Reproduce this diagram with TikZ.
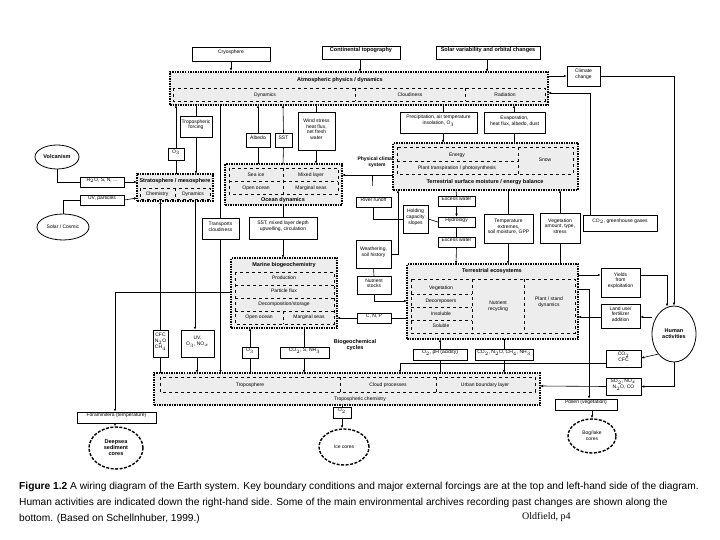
\documentclass[tikz,border=0pt]{standalone}
\usepackage{fontspec}
\setmainfont{Liberation Sans}
\newfontfamily\serifx{Liberation Serif}
\usetikzlibrary{fit,arrows.meta,shapes.geometric}
\begin{document}
\begin{tikzpicture}[x=1pt,y=-1pt,
  every node/.style={font=\fontsize{5}{5.8}\selectfont,align=center,inner sep=0pt},
  box/.style={draw,line width=0.5pt,fill=white},
  big/.style={draw,line width=2pt,dash pattern=on 1.5pt off 1pt,fill=gray!14},
  inner/.style={draw,dashed,line width=0.4pt},
  oval/.style={draw,ellipse,line width=0.8pt},
  doval/.style={draw,ellipse,line width=1.4pt,dash pattern=on 3pt off 1.5pt},
  ttl/.style={font=\fontsize{5.5}{6}\selectfont\bfseries},
  c/.style={line width=0.6pt},
  a/.style={c,-{Latex[length=3pt,width=2.5pt]}}]
\fill[white] (0,0) rectangle (720,540);
\useasboundingbox (0,0) rectangle (720,540);
% ---- top forcings
\node[box,fit={(192,47)(270,61)}] (cryo) {Cryosphere};
\node[box,fit={(322,46)(400,59)},ttl] (cont) {Continental topography};
\node[box,fit={(436,46)(540,59)},ttl] (solv) {Solar variability and orbital changes};
% ---- atmosphere
\node[big,fit={(170,72)(548,105)}] (atm) {};
\node[ttl] (atmt) at (340,80) {Atmospheric physics / dynamics};
\draw[inner] (173,88) rectangle (545,101);
\draw[inner] (355,88) -- (355,101) (465,88) -- (465,101);
\node (dyn) at (265,95) {Dynamics};
\node (cld) at (410,95) {Cloudiness};
\node (rad) at (505,95) {Radiation};
\node[box,fit={(567,66)(600,86)}] (cc) {Climate\\change};
% ---- forcings under atm
\node[box,fit={(180,116)(212,137)}] (tf) {Tropospheric\\forcing};
\node[box,fit={(168,148)(184,160)}] (o3a) {O$_3$};
\node[box,fit={(246,133)(270,147)}] (alb) {Albedo};
\node[box,fit={(275,133)(292,147)}] (sst) {SST};
\node[box,fit={(298,112)(335,150)}] (ws) {Wind stress\\heat flux,\\net fresh\\water};
\node[box,fit={(400,112)(477,133)}] (prec) {Precipitation, air temperature\\insolation, O$_3$};
\node[box,fit={(484,112)(545,133)}] (evap) {Evaporation,\\heat flux, albedo, dust};
% ---- left
\node[oval,minimum width=44,minimum height=24,ttl] (volc) at (57,157) {Volcanism};
\node[box,fit={(80,177)(124,187)}] (h2o) {H$_2$O, S, N, ...};
\node[box,fit={(80,195)(124,205)}] (uv) {UV, particles};
\node[oval,minimum width=52,minimum height=26] (solc) at (63,227) {Solar / Cosmic};
\node[big,fit={(137,174)(213,201)}] (strat) {};
\node[ttl] at (175,181) {Stratosphere / mesosphere};
\draw[inner] (140,188) rectangle (210,199);
\draw[inner] (175,188) -- (175,199);
\node at (157,194) {Chemistry};
\node at (193,194) {Dynamics};
% ---- ocean
\node[big,fit={(225,164)(342,205)}] (ocean) {};
\draw[inner] (229,168) rectangle (338,194) (229,181) -- (338,181) (283,168) -- (283,194);
\node at (256,175) {Sea ice};
\node at (311,175) {Mixed layer};
\node at (256,188) {Open ocean};
\node at (311,188) {Marginal seas};
\node[ttl] at (283,200) {Ocean dynamics};
\node[ttl,font=\fontsize{5}{6}\selectfont\bfseries] (pcs) at (377,162) {Physical climate\\system};
% ---- terrestrial surface
\node[big,fit={(393,143)(578,190)}] (tsur) {};
\draw[inner] (397,147) rectangle (573,174) (397,161) -- (518,161) (518,147) -- (518,174);
\node at (457,155) {Energy};
\node at (457,168) {Plant transpiration / photosynthesis};
\node at (545,160) {Snow};
\node[ttl] at (485,182) {Terrestrial surface moisture / energy balance};
% ---- middle column
\node[box,fit={(356,197)(391,207)}] (rr) {River runoff};
\node[box,fit={(403,205)(428,233)}] (hold) {Holding\\capacity\\slopes};
\node[box,fit={(438,196)(475,206)}] (ex1) {Excess water};
\node[box,fit={(438,217)(475,227)}] (hyd) {Hydrology};
\node[box,fit={(438,237)(475,247)}] (ex2) {Excess water};
\node[box,fit={(484,214)(533,243)}] (temp) {Temperature\\extremes,\\soil moisture, GPP};
\node[box,fit={(540,213)(580,243)}] (veg) {Vegetation\\amount, type,\\stress};
\node[box,fit={(583,215)(657,231)}] (ghg) {CO$_2$, greenhouse gases};
\node[box,fit={(202,218)(239,239)}] (trc) {Transports\\cloudiness};
\node[box,fit={(249,217)(317,239)}] (sstm) {SST, mixed layer depth\\upwelling, circulation};
\node[box,fit={(356,240)(391,268)}] (weat) {Weathering,\\soil history};
\node[box,fit={(357,276)(391,294)}] (nut) {Nutrient\\stocks};
\node[box,fit={(357,313)(391,323)}] (cnp) {C, N, P};
% ---- marine
\node[big,fit={(231,258)(337,328)}] (mar) {};
\node[ttl] at (284,265) {Marine biogeochemistry};
\draw[inner] (235,272) rectangle (334,324) (235,285) -- (334,285) (235,298) -- (334,298) (235,311) -- (334,311) (283,311) -- (283,324);
\node at (284,278) {Production};
\node at (284,291) {Particle flux};
\node at (284,304) {Decomposition/storage};
\node at (259,317) {Open ocean};
\node at (309,317) {Marginal seas};
% ---- terrestrial ecosystems
\node[big,fit={(407,264)(578,339)}] (teco) {};
\node[ttl] at (492,271) {Terrestrial ecosystems};
\draw[inner] (411,279) rectangle (575,333) (472,279) -- (472,333) (524,279) -- (524,333)
  (411,294) -- (472,294) (411,307) -- (472,307) (411,320) -- (472,320);
\node at (441,288) {Vegetation};
\node at (441,301) {Decomposers};
\node at (441,314) {Insoluble};
\node at (441,326) {Soluble};
\node at (498,306) {Nutrient\\recycling};
\node at (549,302) {Plant / stand\\dynamics};
% ---- human
\node[box,fit={(601,268)(640,297)}] (yld) {Yields\\from\\exploitation};
\node[box,fit={(601,304)(640,328)}] (lu) {Land use/\\fertilizer\\addition};
\node[oval,minimum width=44,minimum height=56,ttl] (hum) at (674,334) {Human\\activities};
\node[ttl] (bgc) at (355,345) {Biogeochemical\\cycles};
\node[box,fit={(242,347)(258,358)}] (o3b) {O$_3$};
\node[box,fit={(280,347)(329,358)}] (csn) {CO$_2$, S, NH$_3$};
\node[box,fit={(413,349)(467,360)}] (oph) {O$_2$, pH (acidity)};
\node[box,fit={(475,349)(533,360)}] (cnn) {CO$_2$, N$_2$O, CH$_4$, NH$_3$};
\node[box,fit={(606,350)(641,367)}] (cfc2) {CO$_2$\\CFC};
\node[box,fit={(606,378)(641,395)}] (so2) {SO$_2$, NO$_x$\\N$_2$O, CO};
\node[box,fit={(153,330)(168,357)}] (cfc1) {CFC\\N$_2$O\\CH$_4$};
\node[box,fit={(181,330)(214,357)}] (uvo) {UV,\\O$_3$, NO$_x$};
% ---- tropospheric chemistry
\node[big,fit={(154,373)(540,405)}] (trop) {};
\draw[inner] (160,377) rectangle (535,392) (340,377) -- (340,392) (436,377) -- (436,392);
\node at (250,385) {Troposphere};
\node at (388,385) {Cloud processes};
\node at (485,385) {Urban boundary layer};
\node at (360,399) {Tropospheric chemistry};
% ---- archives
\node[box,fit={(77,412)(156,423)}] (for) {Foraminifera (temperature)};
\node[doval,minimum width=54,minimum height=42,ttl] (deep) at (116,448) {Deepsea\\sediment\\cores};
\node[box,fit={(333,407)(351,418)}] (o3c) {O$_2$};
\node[doval,minimum width=50,minimum height=36] (ice) at (344,447) {Ice cores};
\node[box,fit={(555,399)(617,410)}] (pol) {Pollen (vegetation)};
\node[doval,minimum width=48,minimum height=34] (bog) at (592,436) {Bog/lake\\cores};
% ---- caption
\node[anchor=west,font=\fontsize{10.2}{12}\selectfont] (cap1) at (19,487) {\textbf{Figure 1.2} A wiring diagram of the Earth system. Key boundary conditions and major external forcings are at the top and left-hand side of the diagram.};
\node[anchor=west,font=\fontsize{10.2}{12}\selectfont] (cap2) at (19,503) {Human activities are indicated down the right-hand side. Some of the main environmental archives recording past changes are shown along the};
\node[anchor=west,font=\fontsize{10.2}{12}\selectfont] (cap3) at (19,519) {bottom. (Based on Schellnhuber, 1999.)};
\node[anchor=west,font=\serifx\fontsize{10}{11}\selectfont] (old) at (522,517) {Oldfield, p4};
% ---- connectors
\draw[a] (cryo) -- (cryo|-atm.north);
\draw[a] (cont.south-|360,0) -- (360,72);
\draw[a] (solv.south-|487,0) -- (487,72);
\draw[a] (atm.east|-cc) -- (cc);
\draw[a] (cc.east) -| (hum.north);
\draw[a] (ghg.north-|590,0) |- (548,93);
\draw[c] (o3a.south) -- (176,174);
\draw[a] (o3a.north) -- (176,105);
\draw[c] (196,105) -- (tf.north);
\draw[a] (tf.south) -- (196,174);
\draw[c] (220,105) -- (trc.north-|220,0);
\draw[a] (trc.south) -- (220.5,373);
\draw[c] (alb.south) -- (258,164);
\draw[a] (alb.north) -- (258,105);
\draw[c] (sst.south) -- (283,164);
\draw[a] (sst.north) -- (283,105);
\draw[c] (316,105) -- (ws.north-|316,0);
\draw[a] (ws.south-|316,0) -- (316,164);
\draw[c] (443,105) -- (443,112);
\draw[a] (prec.south-|443,0) -- (443,143);
\draw[c] (514,143) -- (evap.south-|514,0);
\draw[a] (evap.north-|514,0) -- (514,105);
\draw[c] (volc.south) |- (h2o.west);
\draw[a] (h2o.east) -- (137,182);
\draw[c] (solc.north) |- (uv.west);
\draw[a] (uv.east) -- (137,198);
\draw[a] (195,201) -- (uvo.north-|195,0);
\draw[a] (uvo.south-|197,0) -- (197,373);
\draw[a] (cfc1.north) -- (160.5,201);
\draw[c] (160.5,373) -- (cfc1.south);
\draw[c] (283,205) -- (sstm.north-|283,0);
\draw[a] (sstm.south-|283,0) -- (283,258);
\draw[a] (393,175) -| (372,186) -- (372,175) -- (342,175);
\draw[c] (hold.west) -| (rr.south);
\draw[a] (weat.east) -| (398,190);
\draw[c] (456,190) -- (ex1.north);
\draw[a] (ex1.south) -- (hyd.north);
\draw[c] (hyd.west) -- (hold.east);
\draw[c] (hyd.south) -- (ex2.north);
\draw[a] (ex2.south) -- (456,264);
\draw[c] (508,190) -- (temp.north-|508,0);
\draw[a] (temp.south-|508,0) -- (508,264);
\draw[a] (veg.north) -- (560,190);
\draw[c] (veg.south) -- (560,264);
\draw[c] (weat.south) -- (nut.north);
\draw[a] (nut.south) |- (407,301);
\draw[c] (407,318) -- (cnp.east);
\draw[a] (cnp.west) -- (337,318);
\draw[c] (304,328) -- (csn.north-|304,0);
\draw[a] (csn.south-|304,0) -- (304,373);
\draw[c] (250,373) -- (o3b.south-|250,0);
\draw[a] (o3b.north-|250,0) -- (250,328);
\draw[c] (504,339) -- (cnn.north-|504,0);
\draw[a] (cnn.south-|504,0) -- (504,373);
\draw[c] (440,373) -- (oph.south-|440,0);
\draw[a] (oph.north-|440,0) -- (440,339);
\draw[a] (578,275) -- (yld.west|-578,275);
\draw[a] (yld.east|-0,275) -| (667,306.5);
\draw[a] (hum.west|-0,317) -- (lu.east|-0,317);
\draw[a] (lu.west|-0,317) -- (578,317);
\draw[a] (hum.south west) -- (cfc2.east|-0,358);
\draw[a] (cfc2.west|-0,363) -| (400,373);
\draw[a] (hum.south) |- (so2.east);
\draw[a] (so2.west) -- (540,386);
\draw[a] (231,292) -| (for.north-|115,0);
\draw[a] (for.south-|115,0) -- (deep.north-|115,0);
\draw[c] (342,405) -- (o3c.north-|342,0);
\draw[a] (o3c.south-|342,0) -- (ice.north-|342,0);
\draw[a] (578,289) -| (pol.north-|589,0);
\draw[a] (pol.south-|592,0) -- (bog.north);
\end{tikzpicture}
\end{document}
